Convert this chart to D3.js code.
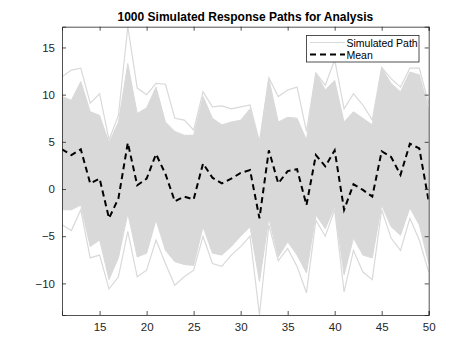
<!DOCTYPE html>
<html><head><meta charset="utf-8">
<script src="https://cdn.jsdelivr.net/npm/d3@7"></script>
<style>body{margin:0;background:#fff}svg{display:block}text{font-family:"Liberation Sans",Arial,sans-serif}</style>
</head><body><div id="chart"></div>
<script>
const steps = d3.range(11, 51);
const meanPath = [4.2,3.6,4.2,0.6,1.1,-3.1,-1.0,4.9,0.4,1.1,3.7,1.6,-1.3,-0.8,-1.1,2.7,1.2,0.6,1.1,1.7,2.0,-3.1,4.1,0.6,1.9,2.1,-1.7,3.6,2.4,4.1,-2.2,0.5,-0.1,-0.8,4.0,3.4,1.5,4.8,4.3,-1.3];
const bandUpper = [9.8,9.4,11.4,8.2,7.8,4.9,7.1,13.3,8.0,8.6,10.8,7.1,6.1,5.7,5.7,9.8,7.5,6.8,7.1,7.3,8.5,4.8,11.7,7.1,7.6,7.5,5.2,12.3,10.5,11.5,7.1,8.2,7.5,6.8,12.8,11.2,10.3,12.4,12.1,8.5];
const bandLower = [-2.2,-2.2,-1.7,-6.1,-5.4,-9.6,-7.3,-2.6,-7.2,-6.8,-3.3,-6.5,-7.7,-8.0,-8.1,-4.0,-6.8,-7.0,-6.1,-5.0,-4.0,-9.8,-3.1,-7.2,-5.6,-7.0,-8.9,-2.75,-4.2,-1.9,-9.1,-5.2,-7.0,-7.3,-1.7,-4.0,-4.9,-2.0,-3.8,-7.9];
const maxPath = [11.9,12.6,12.8,9.1,10.1,5.2,7.8,17.2,10.7,10.0,11.2,11.1,7.5,7.3,6.25,10.3,8.7,8.8,8.5,8.7,8.9,5.0,11.8,9.8,10.5,10.8,6.1,12.3,11.0,13.7,8.5,10.1,8.9,7.3,12.9,11.7,10.8,12.8,12.8,9.0];
const minPath = [-3.8,-4.4,-2.2,-7.3,-7.0,-10.6,-9.3,-4.5,-9.3,-8.6,-5.4,-7.9,-10.2,-9.3,-8.6,-5.0,-7.9,-8.2,-7.0,-6.1,-5.0,-13.35,-3.8,-7.6,-6.3,-8.2,-11.0,-3.3,-5.0,-2.2,-10.9,-6.5,-8.8,-9.6,-2.2,-5.2,-6.5,-3.1,-5.4,-8.8];
const xTicks = [15,20,25,30,35,40,45,50];
const yTicks = [-10,-5,0,5,10,15];
const titleText = "1000 Simulated Response Paths for Analysis";
const legendLabels = ["Simulated Path","Mean"];

const W = 474, H = 355;
const m = {left:62, right:45.3, top:26.7, bottom:40};
const svg = d3.select("#chart").append("svg").attr("width",W).attr("height",H);
const x = d3.scaleLinear().domain([11,50]).range([m.left, W-m.right]);
const y = d3.scaleLinear().domain([-13.35,17.2]).range([H-m.bottom, m.top]);
const axisColor = "#262626", gray = "#d9d9d9";

svg.append("clipPath").attr("id","clip").append("rect")
  .attr("x",x(11)).attr("y",y(17.2)).attr("width",x(50)-x(11)).attr("height",y(-13.35)-y(17.2));
const g = svg.append("g").attr("clip-path","url(#clip)");

const area = d3.area().x((d,i)=>x(steps[i])).y0((d,i)=>y(bandLower[i])).y1(d=>y(d));
g.append("path").datum(bandUpper).attr("d",area).attr("fill",gray).attr("stroke",gray).attr("stroke-width",1);
const line = d3.line().x((d,i)=>x(steps[i])).y(d=>y(d));
[maxPath,minPath].forEach(p=>g.append("path").datum(p).attr("d",line).attr("fill","none").attr("stroke",gray).attr("stroke-width",1.2));
g.append("path").datum(meanPath).attr("d",line).attr("fill","none").attr("stroke","#000").attr("stroke-width",2).attr("stroke-dasharray","6,4");

const xb = svg.append("g").attr("transform",`translate(0,${y(-13.35)})`)
  .call(d3.axisBottom(x).tickValues(xTicks).tickSize(-4).tickPadding(8));
const xt = svg.append("g").attr("transform",`translate(0,${y(17.2)})`)
  .call(d3.axisTop(x).tickValues(xTicks).tickSize(-4).tickFormat(""));
const yl = svg.append("g").attr("transform",`translate(${x(11)},0)`)
  .call(d3.axisLeft(y).tickValues(yTicks).tickSize(-4).tickPadding(7));
const yr = svg.append("g").attr("transform",`translate(${x(50)},0)`)
  .call(d3.axisRight(y).tickValues(yTicks).tickSize(-4).tickFormat(""));
[xb,xt,yl,yr].forEach(a=>{
  a.select(".domain").attr("stroke",axisColor).attr("stroke-width",0.8);
  a.selectAll(".tick line").attr("stroke",axisColor).attr("stroke-width",0.8);
  a.selectAll("text").attr("fill",axisColor).attr("font-size",11.5).attr("font-family","Liberation Sans, Arial, sans-serif");
});

svg.append("text").attr("x",(x(11)+x(50))/2).attr("y",21).attr("text-anchor","middle")
  .attr("font-size",12).attr("font-weight","bold").attr("fill","#000").text(titleText);

const lg = svg.append("g");
lg.append("rect").attr("x",306.5).attr("y",35.5).attr("width",112.5).attr("height",26.5).attr("fill","#fff").attr("stroke",axisColor).attr("stroke-width",0.8);
lg.append("line").attr("x1",310).attr("x2",345).attr("y1",42.5).attr("y2",42.5).attr("stroke",gray).attr("stroke-width",1.2);
lg.append("line").attr("x1",310).attr("x2",345).attr("y1",54.5).attr("y2",54.5).attr("stroke","#000").attr("stroke-width",2).attr("stroke-dasharray","6,4");
lg.selectAll("text.l").data(legendLabels).join("text").attr("x",346.5).attr("y",(d,i)=>46.5+i*12)
  .attr("font-size",10.5).attr("fill","#000").text(d=>d);
</script></body></html>
